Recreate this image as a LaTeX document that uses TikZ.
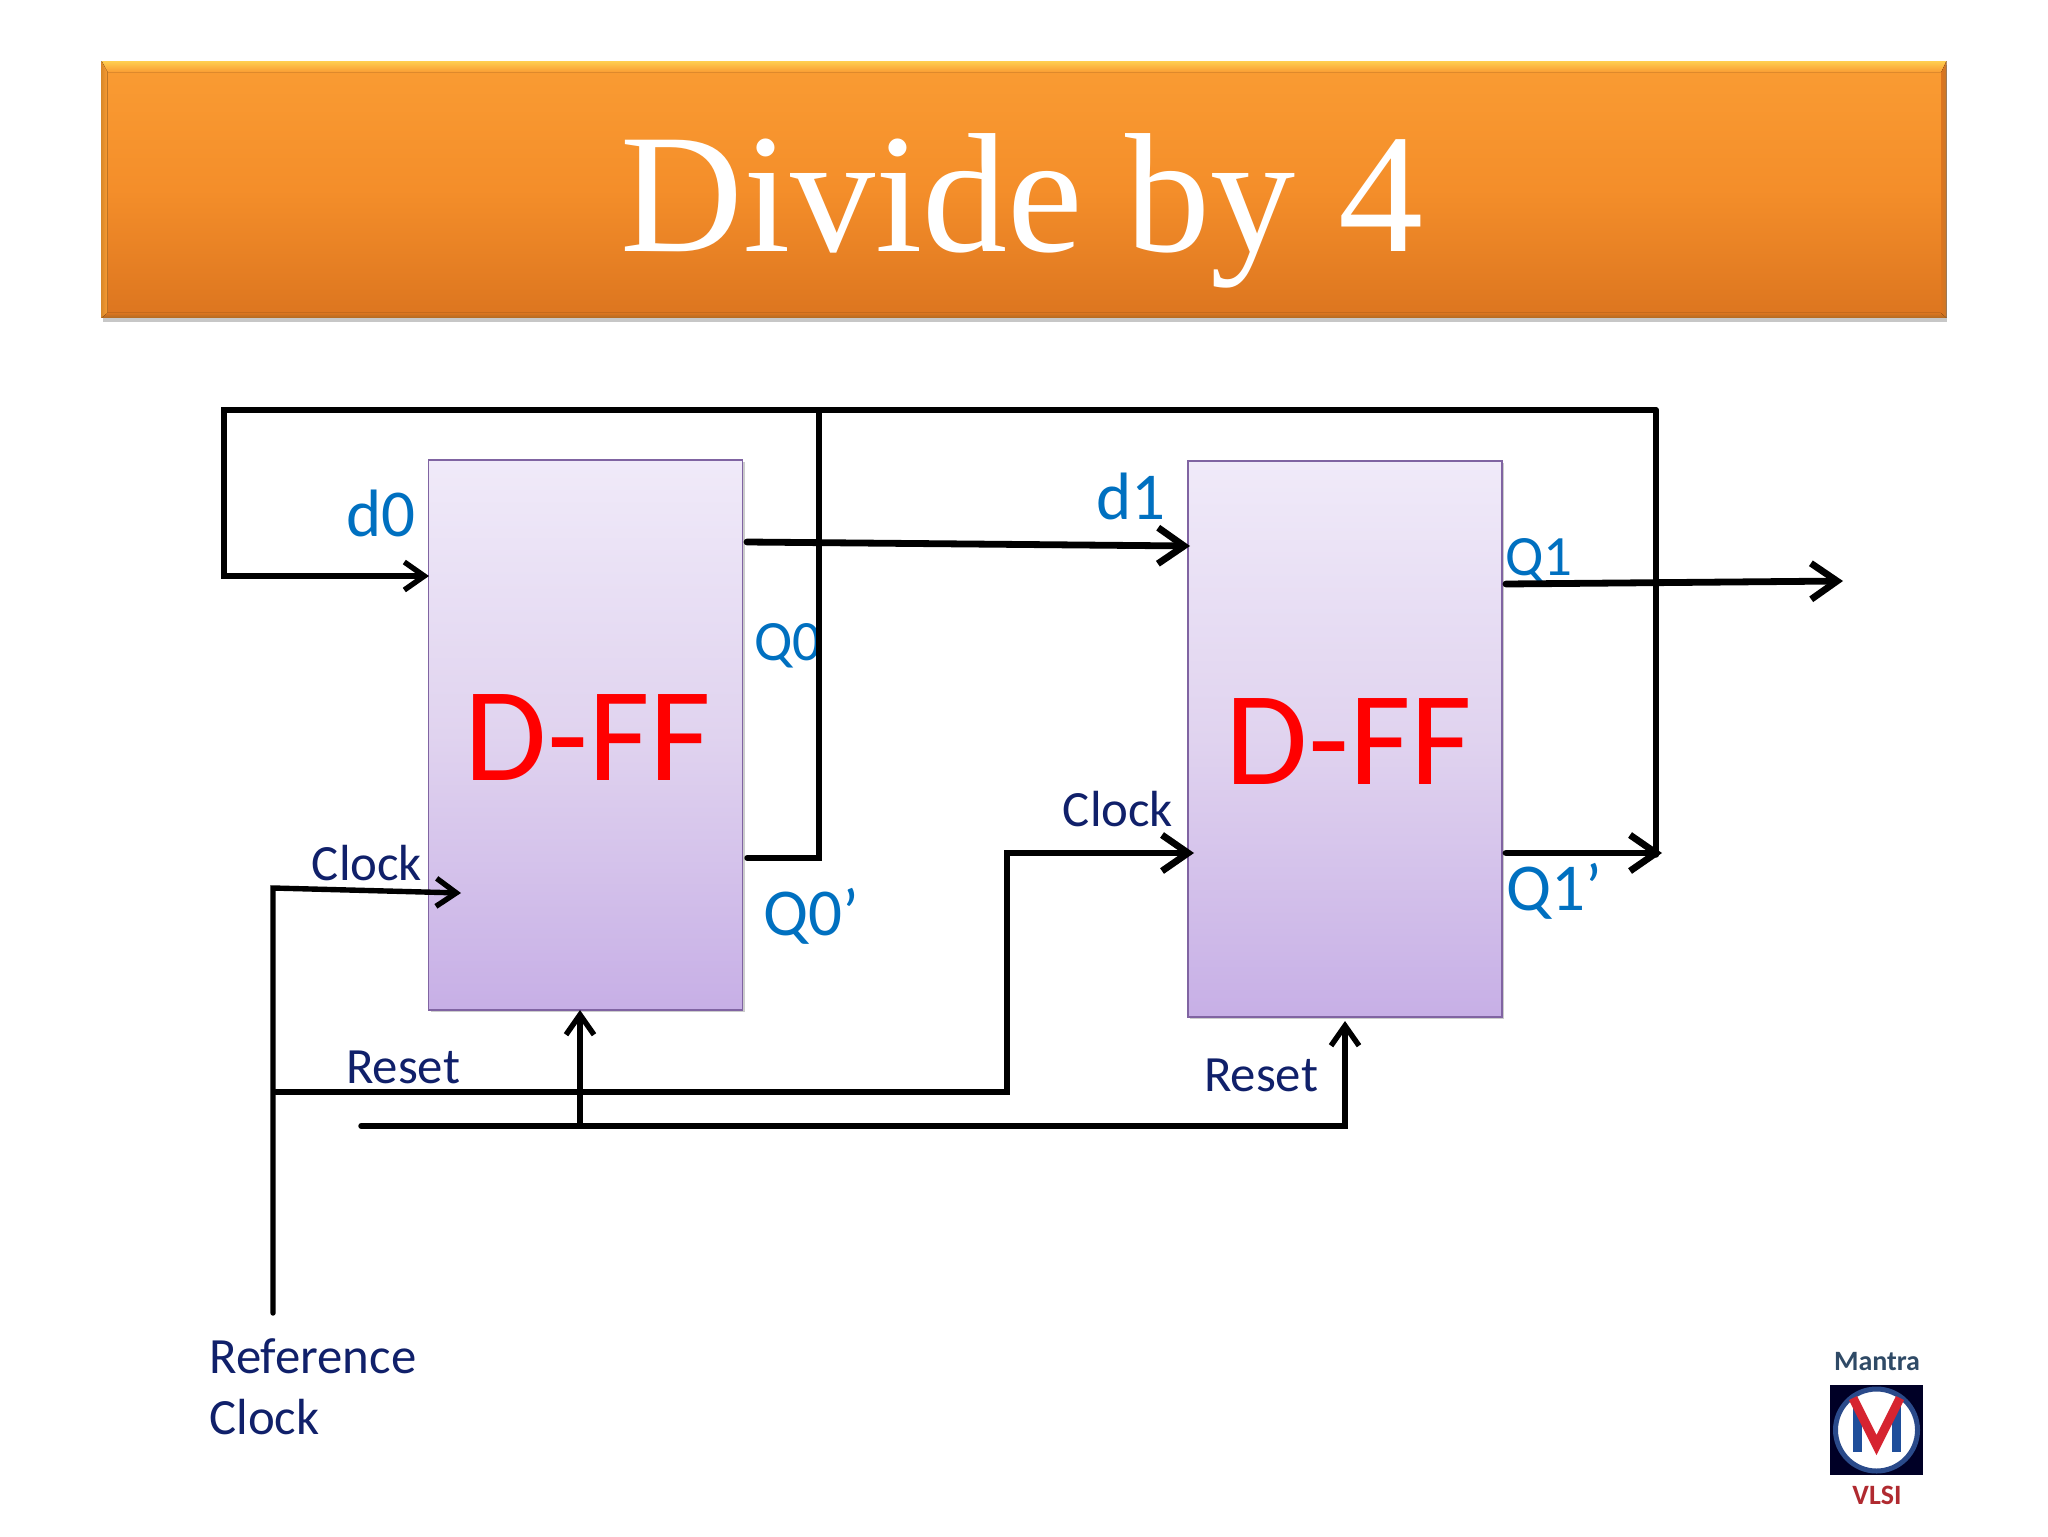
\documentclass[tikz,border=0pt]{standalone}
\usepackage{fontspec}
\setmainfont{Carlito}
\newfontfamily\titlefont{Liberation Serif}
\usetikzlibrary{arrows.meta,shadows}
\definecolor{labelblue}{HTML}{0070C0}
\definecolor{navytxt}{HTML}{10206A}
\definecolor{boxedge}{HTML}{8064A2}
\definecolor{boxtop}{HTML}{F0EAF9}
\definecolor{boxmid}{HTML}{E0D3EF}
\definecolor{boxbot}{HTML}{C7AFE6}
\definecolor{bantop}{HTML}{FA9C33}
\definecolor{banmid}{HTML}{F48E2A}
\definecolor{banbot}{HTML}{DC751F}
\definecolor{bevtop}{HTML}{FFCF50}
\definecolor{bevleft}{HTML}{DB8A2A}
\definecolor{bevright}{HTML}{C9782A}
\definecolor{bevbot}{HTML}{B06A22}
\definecolor{logotxt}{HTML}{2F4A66}
\definecolor{logored}{HTML}{B02A30}
\definecolor{logoring}{HTML}{2A4A8A}
\definecolor{logoblue}{HTML}{1F4E9A}
\definecolor{logom}{HTML}{D62430}
\tikzset{
  ffbox/.style={draw=boxedge,line width=0.7pt,top color=boxtop,bottom color=boxbot,middle color=boxmid,
    minimum width=157pt,minimum height=275pt,inner sep=0pt,text=red,font=\fontsize{67}{70}\selectfont,
    drop shadow={shadow xshift=1pt,shadow yshift=-1pt,opacity=.2,fill=black}},
  wire/.style={line width=2.7pt,black,line cap=round,line join=miter},
  wirethick/.style={line width=3.4pt,black,line cap=round},
  tip/.style={-{Straight Barb[length=10pt,width=14pt,line width=2.7pt]}},
  tipbig/.style={-{Straight Barb[length=13pt,width=18pt,line width=3.4pt]}},
  sig/.style={text=labelblue,inner sep=0pt},
  ctl/.style={text=navytxt,inner sep=0pt,font=\fontsize{25.4}{30}\selectfont},
}
\begin{document}
\begin{tikzpicture}[x=0.5pt,y=-0.5pt]
\useasboundingbox (0,0) rectangle (2048,1536);
\fill[white] (0,0) rectangle (2048,1536);
% banner
\node[minimum width=922pt,minimum height=128pt,inner sep=0pt,top color=bantop,bottom color=banbot,middle color=banmid,
  drop shadow={shadow xshift=0.5pt,shadow yshift=-2pt,opacity=.22,fill=black}] (banner) at (1024,189.5) {};
\fill[top color=bevtop,bottom color=bantop] (banner.north west) -- (banner.north east) -- ++(-5,11) -- ++(-1834,0) -- cycle;
\fill[left color=bevleft,right color=bantop] (banner.north west) -- ++(6,11) -- ++(0,244) -- (banner.south west) -- cycle;
\fill[left color=banbot,right color=bevright] (banner.north east) -- ++(-5,11) -- ++(0,244) -- (banner.south east) -- cycle;
\fill[top color=banbot,bottom color=bevbot] (banner.south west) -- ++(6,-5) -- ++(1833,0) -- (banner.south east) -- cycle;
\node[text=white,inner sep=0pt,font=\titlefont\fontsize{85}{90}\selectfont] (title) at (1022,211) {Divide by 4};
% blocks
\node[ffbox] (ff0) at (585.5,735) {};
\node[ffbox,minimum height=278pt] (ff1) at (1345,739) {};
\node[inner sep=0pt,text=red,font=\fontsize{67}{70}\selectfont] (ff0t) at (588,738) {D-FF};
\node[inner sep=0pt,text=red,font=\fontsize{67}{70}\selectfont] (ff1t) at (1349,742) {D-FF};
% labels
\node[sig,font=\fontsize{33.5}{36}\selectfont] (ld0) at (381,513) {d0};
\node[sig,font=\fontsize{33.5}{36}\selectfont] (ld1) at (1131,496) {d1};
\node[sig,font=\fontsize{28.5}{32}\selectfont] (lq0) at (788,646) {Q0};
\node[sig,font=\fontsize{28.5}{32}\selectfont] (lq1) at (1539,561) {Q1};
\node[sig,font=\fontsize{33.5}{36}\selectfont] (lq0n) at (811,916) {Q0’};
\node[sig,font=\fontsize{33.5}{36}\selectfont] (lq1n) at (1554,891) {Q1’};
\node[ctl] (lc0) at (367,863) {Clock};
\node[ctl] (lc1) at (1118,809) {Clock};
\node[ctl] (lr0) at (403,1067) {Reset};
\node[ctl] (lr1) at (1261,1075) {Reset};
\node[ctl,anchor=west] (lref1) at (209,1356) {Reference};
\node[ctl,anchor=west] (lref2) at (209,1417) {Clock};
% wire points
\coordinate (tl) at (224,410);
\coordinate (tr) at (1656,410);
\coordinate (bl) at (224,576);
\coordinate (d0in) at (429,576);
\coordinate (qn0) at (747,858);
\coordinate (qn0j) at (819,858);
\coordinate (qn0t) at (819,410);
\coordinate (q0o) at (747,542);
\coordinate (d1in) at (1190,546);
\coordinate (q1o) at (1506,584);
\coordinate (q1e) at (1843,581);
\coordinate (qn1) at (1506,853);
\coordinate (qn1e) at (1662,853);
\coordinate (qn1b) at (1656,855);
\coordinate (ref) at (273,1313);
\coordinate (ck0) at (273,888);
\coordinate (ck0in) at (461,893);
\coordinate (ckb) at (276,1092);
\coordinate (ckc) at (1007,1092);
\coordinate (ckd) at (1007,853);
\coordinate (ck1in) at (1194,853);
\coordinate (rs) at (361,1126);
\coordinate (rse) at (1345,1126);
\coordinate (rs1) at (1345,1021);
\coordinate (rsj) at (580,1126);
\coordinate (rs0) at (580,1010);
% wires
\draw[wire,tip] (tr) -- (tl) -- (bl) -- (d0in);
\draw[wire] (tr) -- (qn1b);
\draw[wire] (qn0) -- (qn0j) -- (qn0t);
\draw[wirethick,tipbig] (q0o) -- (d1in);
\draw[wirethick,tipbig] (q1o) -- (q1e);
\draw[wirethick,tipbig] (qn1) -- (qn1e);
\draw[wire,tip] (ref) -- (ck0) -- (ck0in);
\draw[wire,tipbig,line width=2.9pt] (ckb) -- (ckc) -- (ckd) -- (ck1in);
\draw[wire,tip] (rs) -- (rse) -- (rs1);
\draw[wire,tip] (rsj) -- (rs0);
% logo
\node[inner sep=0pt,text=logotxt,font=\bfseries\fontsize{14}{15}\selectfont] (mantra) at (1877,1362) {Mantra};
\node[inner sep=0pt,text=logored,font=\bfseries\fontsize{14}{15}\selectfont] (vlsi) at (1877,1495) {VLSI};
\fill[black!85!blue] (1830,1385) rectangle (1923,1475);
\fill[white,draw=logoring,line width=2.5pt] (1876.5,1430) circle (41);
\draw[line width=4.5pt,logoblue] (1857,1406) -- (1857,1452);
\draw[line width=4.5pt,logoblue] (1896,1406) -- (1896,1452);
\draw[line width=4.5pt,logom,line join=miter] (1853,1398) -- (1876.5,1445) -- (1900,1398);
\end{tikzpicture}
\end{document}
